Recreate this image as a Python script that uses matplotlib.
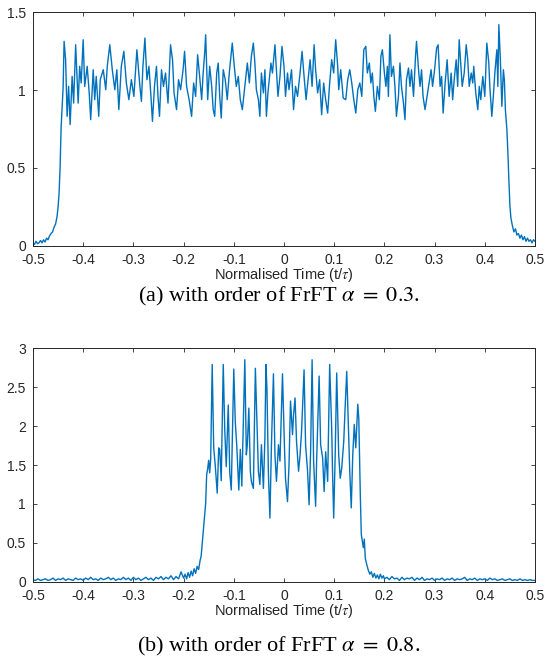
import matplotlib
matplotlib.use("Agg")
import matplotlib.pyplot as plt
from matplotlib.ticker import FixedLocator, FixedFormatter

# panel (a): FrFT order 0.3
t_a = [
    -0.500, -0.497, -0.494, -0.491, -0.488, -0.485, -0.482, -0.479, -0.476, -0.473,
    -0.470, -0.467, -0.464, -0.461, -0.458, -0.455, -0.452, -0.450, -0.448, -0.446,
    -0.444, -0.440, -0.438, -0.435, -0.432, -0.429, -0.426, -0.422, -0.419, -0.415,
    -0.410, -0.407, -0.404, -0.400, -0.397, -0.392, -0.388, -0.385, -0.380, -0.377,
    -0.374, -0.369, -0.366, -0.360, -0.355, -0.352, -0.347, -0.342, -0.337, -0.333,
    -0.329, -0.324, -0.319, -0.314, -0.309, -0.304, -0.299, -0.293, -0.287, -0.284,
    -0.281, -0.277, -0.273, -0.269, -0.265, -0.262, -0.258, -0.254, -0.251, -0.248,
    -0.244, -0.240, -0.236, -0.231, -0.226, -0.222, -0.219, -0.214, -0.210, -0.206,
    -0.201, -0.198, -0.194, -0.189, -0.184, -0.180, -0.176, -0.172, -0.168, -0.164,
    -0.161, -0.158, -0.156, -0.152, -0.148, -0.144, -0.141, -0.138, -0.134, -0.131,
    -0.128, -0.125, -0.121, -0.117, -0.113, -0.109, -0.103, -0.099, -0.095, -0.091,
    -0.087, -0.083, -0.078, -0.073, -0.069, -0.065, -0.061, -0.058, -0.055, -0.051,
    -0.048, -0.045, -0.041, -0.038, -0.035, -0.032, -0.026, -0.023, -0.018, -0.014,
    -0.012, -0.008, -0.004, 0.000, 0.003, 0.007, 0.010, 0.015, 0.019, 0.023,
    0.027, 0.032, 0.036, 0.040, 0.044, 0.048, 0.052, 0.056, 0.060, 0.063,
    0.067, 0.071, 0.075, 0.079, 0.083, 0.087, 0.091, 0.095, 0.099, 0.103,
    0.107, 0.109, 0.113, 0.118, 0.123, 0.127, 0.131, 0.135, 0.139, 0.143,
    0.147, 0.151, 0.155, 0.159, 0.163, 0.166, 0.170, 0.173, 0.176, 0.179,
    0.182, 0.186, 0.190, 0.193, 0.196, 0.200, 0.203, 0.206, 0.208, 0.211,
    0.214, 0.218, 0.221, 0.224, 0.228, 0.231, 0.234, 0.238, 0.241, 0.244,
    0.248, 0.251, 0.254, 0.258, 0.262, 0.264, 0.268, 0.271, 0.274, 0.277,
    0.281, 0.285, 0.289, 0.293, 0.296, 0.300, 0.304, 0.307, 0.311, 0.314,
    0.317, 0.321, 0.325, 0.329, 0.333, 0.336, 0.339, 0.343, 0.346, 0.349,
    0.352, 0.355, 0.359, 0.363, 0.366, 0.369, 0.373, 0.376, 0.378, 0.382,
    0.386, 0.389, 0.392, 0.396, 0.400, 0.404, 0.408, 0.410, 0.414, 0.417,
    0.420, 0.424, 0.426, 0.428, 0.431, 0.434, 0.437, 0.439, 0.441, 0.444,
    0.446, 0.448, 0.450, 0.452, 0.455, 0.458, 0.461, 0.464, 0.467, 0.470,
    0.473, 0.476, 0.479, 0.482, 0.485, 0.488, 0.491, 0.494, 0.497, 0.500,
]
amp_a = [
    0.02, 0.01, 0.03, 0.015, 0.02, 0.035, 0.02, 0.04, 0.025, 0.05,
    0.04, 0.065, 0.08, 0.09, 0.12, 0.14, 0.19, 0.25, 0.34, 0.50,
    0.756, 1.013, 1.312, 1.194, 0.831, 1.023, 0.778, 1.087, 0.916, 1.290,
    0.916, 1.152, 1.045, 1.322, 1.023, 1.152, 0.981, 0.810, 1.130, 0.938,
    1.087, 0.831, 1.066, 1.130, 1.002, 1.152, 1.290, 1.130, 1.002, 1.130,
    0.874, 1.152, 1.248, 1.045, 0.938, 1.066, 0.959, 1.258, 1.023, 0.927,
    1.152, 1.333, 1.066, 1.152, 0.959, 0.799, 1.023, 1.152, 0.959, 0.831,
    1.130, 1.023, 1.109, 0.916, 1.290, 1.194, 0.981, 0.874, 1.066, 1.002,
    1.130, 1.248, 1.023, 0.938, 0.831, 1.045, 0.959, 1.226, 1.087, 0.938,
    1.109, 1.237, 1.354, 0.938, 1.152, 1.023, 0.874, 0.831, 1.109, 1.173,
    0.959, 0.820, 1.130, 1.066, 0.938, 1.109, 1.301, 1.152, 1.023, 1.087,
    0.938, 0.874, 1.023, 1.173, 1.045, 1.216, 1.301, 1.173, 1.002, 0.938,
    0.831, 1.109, 0.981, 1.130, 0.831, 0.981, 1.173, 1.109, 1.290, 1.066,
    0.959, 1.087, 1.280, 1.152, 0.959, 1.109, 1.002, 1.130, 0.874, 1.023,
    0.959, 1.109, 1.248, 1.087, 0.938, 1.066, 1.194, 1.023, 1.290, 1.130,
    0.981, 1.066, 0.842, 1.045, 0.938, 0.852, 1.045, 1.194, 1.109, 1.322,
    1.152, 1.002, 1.130, 0.948, 0.938, 1.066, 1.130, 1.045, 0.938, 0.852,
    1.002, 1.045, 0.959, 1.258, 1.280, 1.109, 1.173, 1.045, 1.109, 0.959,
    0.863, 1.023, 0.938, 1.216, 1.258, 1.109, 1.023, 1.152, 0.959, 1.354,
    1.087, 1.152, 1.023, 0.831, 0.959, 1.173, 1.023, 0.916, 0.810, 1.066,
    1.141, 1.023, 1.130, 0.959, 1.216, 1.312, 1.130, 1.023, 1.130, 0.959,
    0.874, 0.959, 1.045, 1.130, 1.023, 1.130, 1.269, 1.290, 1.023, 1.087,
    0.852, 1.045, 1.194, 0.959, 1.109, 0.938, 1.066, 1.194, 1.023, 1.322,
    1.173, 1.023, 1.109, 1.290, 1.194, 1.023, 1.109, 1.045, 1.152, 0.981,
    0.874, 1.023, 0.938, 1.087, 0.959, 1.301, 1.173, 1.023, 0.831, 0.959,
    1.109, 1.258, 1.023, 1.419, 1.194, 0.895, 1.130, 1.066, 0.874, 0.746,
    0.60, 0.42, 0.26, 0.18, 0.13, 0.09, 0.11, 0.07, 0.08, 0.05,
    0.07, 0.04, 0.06, 0.03, 0.05, 0.03, 0.04, 0.02, 0.04, 0.03,
]

# panel (b): FrFT order 0.8
t_b = [
    -0.500, -0.495, -0.490, -0.485, -0.480, -0.475, -0.470, -0.465, -0.460, -0.455,
    -0.450, -0.445, -0.440, -0.435, -0.430, -0.425, -0.420, -0.415, -0.410, -0.405,
    -0.400, -0.395, -0.390, -0.385, -0.380, -0.375, -0.370, -0.365, -0.360, -0.355,
    -0.350, -0.345, -0.340, -0.335, -0.330, -0.325, -0.320, -0.315, -0.310, -0.305,
    -0.300, -0.295, -0.290, -0.285, -0.280, -0.275, -0.270, -0.265, -0.260, -0.255,
    -0.250, -0.245, -0.240, -0.235, -0.230, -0.225, -0.220, -0.215, -0.210, -0.205,
    -0.200, -0.197, -0.194, -0.191, -0.188, -0.185, -0.182, -0.179, -0.176, -0.173,
    -0.170, -0.167, -0.165, -0.162, -0.160, -0.158, -0.156, -0.154, -0.152, -0.150,
    -0.148, -0.146, -0.143, -0.140, -0.137, -0.133, -0.130, -0.128, -0.125, -0.121,
    -0.118, -0.115, -0.111, -0.108, -0.105, -0.100, -0.097, -0.094, -0.090, -0.087,
    -0.084, -0.078, -0.075, -0.073, -0.070, -0.067, -0.065, -0.061, -0.059, -0.057,
    -0.054, -0.051, -0.048, -0.045, -0.041, -0.038, -0.036, -0.034, -0.031, -0.028,
    -0.025, -0.021, -0.018, -0.015, -0.011, -0.008, -0.003, 0.001, 0.003, 0.007,
    0.010, 0.013, 0.017, 0.019, 0.022, 0.025, 0.029, 0.032, 0.035, 0.040,
    0.043, 0.047, 0.050, 0.053, 0.056, 0.059, 0.063, 0.065, 0.070, 0.073,
    0.077, 0.080, 0.083, 0.087, 0.091, 0.095, 0.097, 0.099, 0.102, 0.105,
    0.109, 0.112, 0.115, 0.119, 0.122, 0.125, 0.129, 0.131, 0.134, 0.137,
    0.140, 0.143, 0.147, 0.149, 0.152, 0.154, 0.156, 0.158, 0.160, 0.162,
    0.165, 0.168, 0.171, 0.174, 0.177, 0.180, 0.183, 0.186, 0.189, 0.192,
    0.195, 0.198, 0.200, 0.205, 0.210, 0.215, 0.220, 0.225, 0.230, 0.235,
    0.240, 0.245, 0.250, 0.255, 0.260, 0.265, 0.270, 0.275, 0.280, 0.285,
    0.290, 0.295, 0.300, 0.305, 0.310, 0.315, 0.320, 0.325, 0.330, 0.335,
    0.340, 0.345, 0.350, 0.355, 0.360, 0.365, 0.370, 0.375, 0.380, 0.385,
    0.390, 0.395, 0.400, 0.405, 0.410, 0.415, 0.420, 0.425, 0.430, 0.435,
    0.440, 0.445, 0.450, 0.455, 0.460, 0.465, 0.470, 0.475, 0.480, 0.485,
    0.490, 0.495, 0.500,
]
amp_b = [
    0.03, 0.02, 0.04, 0.02, 0.03, 0.04, 0.02, 0.03, 0.05, 0.02,
    0.04, 0.03, 0.05, 0.02, 0.04, 0.03, 0.02, 0.05, 0.03, 0.04,
    0.02, 0.05, 0.03, 0.06, 0.03, 0.04, 0.02, 0.05, 0.03, 0.04,
    0.06, 0.03, 0.05, 0.02, 0.04, 0.03, 0.06, 0.03, 0.05, 0.02,
    0.06, 0.03, 0.05, 0.02, 0.04, 0.06, 0.03, 0.05, 0.02, 0.06,
    0.04, 0.07, 0.03, 0.06, 0.04, 0.08, 0.03, 0.07, 0.04, 0.13,
    0.05, 0.10, 0.04, 0.12, 0.06, 0.14, 0.08, 0.17, 0.11, 0.20,
    0.16, 0.28, 0.33, 0.55, 0.71, 0.86, 1.01, 1.38, 1.45, 1.56,
    1.40, 1.58, 2.79, 1.72, 1.50, 1.14, 1.72, 1.70, 1.30, 2.79,
    1.95, 1.48, 2.27, 1.40, 1.18, 2.73, 2.05, 1.74, 1.18, 1.70,
    1.23, 2.85, 1.63, 1.76, 2.23, 1.42, 1.29, 1.20, 1.93, 2.74,
    2.06, 1.42, 1.25, 1.76, 1.20, 1.85, 2.79, 2.49, 1.38, 0.82,
    1.76, 2.67, 1.63, 1.29, 1.76, 1.55, 2.67, 1.72, 1.33, 1.03,
    1.50, 2.32, 1.89, 2.14, 2.36, 1.80, 1.42, 1.63, 1.93, 2.72,
    1.76, 1.42, 0.99, 1.67, 2.85, 1.55, 0.97, 1.55, 2.64, 1.76,
    1.59, 1.16, 1.67, 1.29, 2.79, 1.97, 1.33, 0.82, 1.63, 2.68,
    1.63, 1.33, 1.46, 1.80, 2.27, 2.70, 1.85, 1.42, 0.95, 1.63,
    2.02, 1.72, 2.28, 2.10, 1.12, 0.61, 0.52, 0.44, 0.55, 0.30,
    0.22, 0.15, 0.10, 0.13, 0.06, 0.11, 0.05, 0.09, 0.04, 0.10,
    0.05, 0.08, 0.04, 0.06, 0.03, 0.07, 0.04, 0.05, 0.02, 0.06,
    0.03, 0.05, 0.04, 0.06, 0.02, 0.05, 0.03, 0.06, 0.02, 0.04,
    0.03, 0.05, 0.02, 0.04, 0.03, 0.05, 0.02, 0.04, 0.03, 0.05,
    0.02, 0.04, 0.03, 0.04, 0.06, 0.02, 0.04, 0.03, 0.05, 0.02,
    0.04, 0.03, 0.04, 0.02, 0.05, 0.03, 0.04, 0.02, 0.03, 0.04,
    0.02, 0.03, 0.04, 0.02, 0.03, 0.02, 0.04, 0.02, 0.03, 0.02,
    0.03, 0.02, 0.02,
]

x_ticks = [-0.5, -0.4, -0.3, -0.2, -0.1, 0, 0.1, 0.2, 0.3, 0.4, 0.5]
x_labels = ["-0.5", "-0.4", "-0.3", "-0.2", "-0.1", "0", "0.1", "0.2", "0.3", "0.4", "0.5"]
y_ticks_a = [0, 0.5, 1, 1.5]
y_labels_a = ["0", "0.5", "1", "1.5"]
y_ticks_b = [0, 0.5, 1, 1.5, 2, 2.5, 3]
y_labels_b = ["0", "0.5", "1", "1.5", "2", "2.5", "3"]
captions = [r"(a) with order of FrFT $\alpha\ =\ 0.3$.", r"(b) with order of FrFT $\alpha\ =\ 0.8$."]
xlabel = r"Normalised Time (t/$\tau$)"

plt.rcParams["font.family"] = ["Liberation Sans", "DejaVu Sans"]
plt.rcParams["mathtext.fontset"] = "stix"
plt.rcParams["axes.unicode_minus"] = False

LINE = "#0072BD"
AXC = "#262626"

fig = plt.figure(figsize=(5.57, 6.60), dpi=100)
ax_a = fig.add_axes([0.0592, 0.6273, 0.9013, 0.3545])
ax_b = fig.add_axes([0.0592, 0.1182, 0.9013, 0.3545])

panels = [
    (ax_a, t_a, amp_a, y_ticks_a, y_labels_a, 1.5),
    (ax_b, t_b, amp_b, y_ticks_b, y_labels_b, 3.0),
]
for ax, t, amp, yt, yl, ymax in panels:
    ax.plot(t, amp, color=LINE, linewidth=1.0)
    ax.set_xlim(-0.5, 0.5)
    ax.set_ylim(0, ymax)
    ax.xaxis.set_major_locator(FixedLocator(x_ticks))
    ax.xaxis.set_major_formatter(FixedFormatter(x_labels))
    ax.yaxis.set_major_locator(FixedLocator(yt))
    ax.yaxis.set_major_formatter(FixedFormatter(yl))
    ax.tick_params(direction="in", length=3, width=0.6, colors=AXC,
                   labelsize=10, top=True, right=True)
    ax.tick_params(axis="x", pad=5)
    ax.tick_params(axis="y", pad=5)
    for s in ax.spines.values():
        s.set_color(AXC)
        s.set_linewidth(0.7)
    ax.set_xlabel(xlabel, fontsize=10.5, color=AXC, labelpad=-1)

fig.text(0.5, 0.5515, captions[0], ha="center", va="center",
         fontsize=16, family=["Liberation Serif", "DejaVu Serif"])
fig.text(0.5, 0.0212, captions[1], ha="center", va="center",
         fontsize=16, family=["Liberation Serif", "DejaVu Serif"])

fig.savefig("out.png", dpi=100)
